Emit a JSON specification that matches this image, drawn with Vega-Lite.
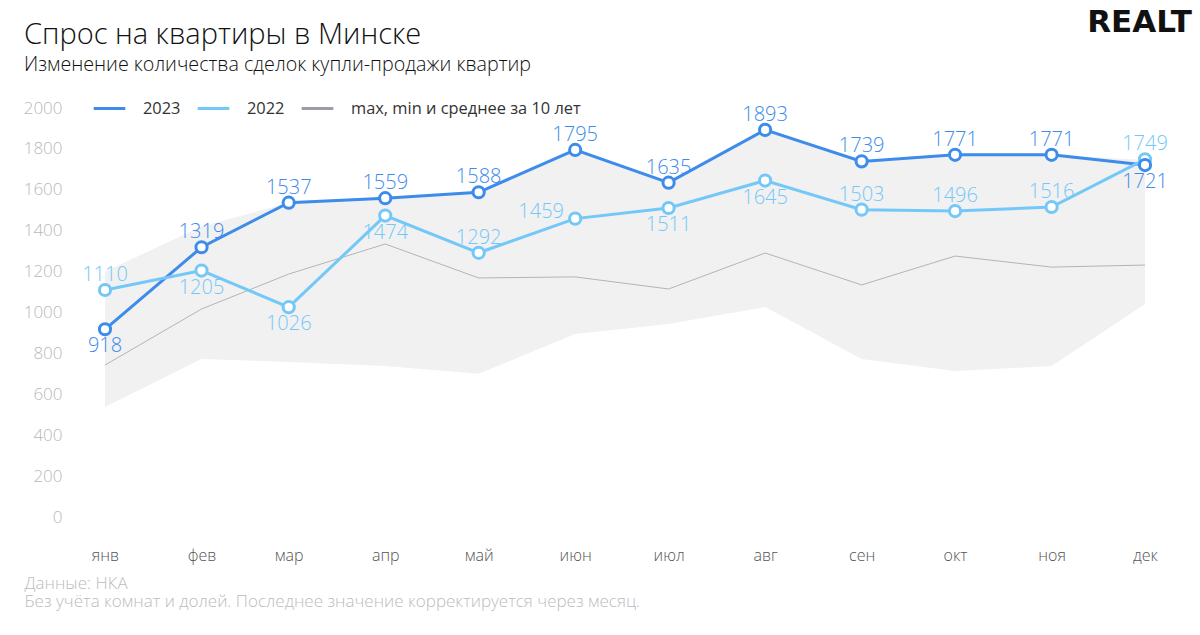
{
  "$schema": "https://vega.github.io/schema/vega-lite/v6.json",
  "width": 1040,
  "height": 409,
  "autosize": {"type": "none"},
  "padding": {"left": 105, "top": 108, "right": 55, "bottom": 118},
  "background": "#ffffff",
  "title": {
    "text": "Спрос на квартиры в Минске",
    "subtitle": "Изменение количества сделок купли-продажи квартир",
    "anchor": "start",
    "frame": "group",
    "dx": -81,
    "offset": -68,
    "font": "Open Sans",
    "fontSize": 29,
    "fontWeight": 300,
    "color": "#111111",
    "subtitleFont": "Open Sans",
    "subtitleFontSize": 19.7,
    "subtitleFontWeight": 300,
    "subtitleColor": "#111111",
    "subtitlePadding": 5
  },
  "datasets": {
    "months": [
      {"month": "2023-01-01T00:00:00", "y2023": 918, "y2022": 1110, "low": 538, "high": 1200, "avg": 743},
      {"month": "2023-02-01T00:00:00", "y2023": 1319, "y2022": 1205, "low": 773, "high": 1420, "avg": 1017},
      {"month": "2023-03-01T00:00:00", "y2023": 1537, "y2022": 1026, "low": 758, "high": 1537, "avg": 1188},
      {"month": "2023-04-01T00:00:00", "y2023": 1559, "y2022": 1474, "low": 738, "high": 1559, "avg": 1335},
      {"month": "2023-05-01T00:00:00", "y2023": 1588, "y2022": 1292, "low": 700, "high": 1588, "avg": 1169},
      {"month": "2023-06-01T00:00:00", "y2023": 1795, "y2022": 1459, "low": 895, "high": 1795, "avg": 1174},
      {"month": "2023-07-01T00:00:00", "y2023": 1635, "y2022": 1511, "low": 944, "high": 1635, "avg": 1115},
      {"month": "2023-08-01T00:00:00", "y2023": 1893, "y2022": 1645, "low": 1027, "high": 1893, "avg": 1291},
      {"month": "2023-09-01T00:00:00", "y2023": 1739, "y2022": 1503, "low": 773, "high": 1739, "avg": 1135},
      {"month": "2023-10-01T00:00:00", "y2023": 1771, "y2022": 1496, "low": 714, "high": 1771, "avg": 1276},
      {"month": "2023-11-01T00:00:00", "y2023": 1771, "y2022": 1516, "low": 738, "high": 1771, "avg": 1222},
      {"month": "2023-12-01T00:00:00", "y2023": 1721, "y2022": 1749, "low": 1042, "high": 1746, "avg": 1232}
    ],
    "logo": [{"month": "2023-12-01T00:00:00", "value": 2415, "name": "REALT"}]
  },
  "data": {"name": "months"},
  "config": {
    "view": {"stroke": null},
    "locale": {
      "time": {
        "dateTime": "%A, %e %B %Y г. %X",
        "date": "%d.%m.%Y",
        "time": "%H:%M:%S",
        "periods": ["AM", "PM"],
        "days": ["воскресенье", "понедельник", "вторник", "среда", "четверг", "пятница", "суббота"],
        "shortDays": ["вс", "пн", "вт", "ср", "чт", "пт", "сб"],
        "months": ["январь", "февраль", "март", "апрель", "май", "июнь", "июль", "август", "сентябрь", "октябрь", "ноябрь", "декабрь"],
        "shortMonths": ["янв", "фев", "мар", "апр", "май", "июн", "июл", "авг", "сен", "окт", "ноя", "дек"]
      }
    }
  },
  "encoding": {
    "x": {
      "field": "month",
      "type": "temporal",
      "scale": {"domain": ["2023-01-01T00:00:00", "2023-12-01T00:00:00"], "nice": false},
      "axis": {
        "domain": false,
        "ticks": false,
        "grid": false,
        "format": "%b",
        "tickCount": {"interval": "month", "step": 1},
        "labelOverlap": false,
        "labelFlush": false,
        "labelAngle": 0,
        "labelFont": "Open Sans",
        "labelFontSize": 16,
        "labelFontWeight": 300,
        "labelColor": "#555555",
        "labelPadding": 30,
        "title": ["Данные: НКА", "Без учёта комнат и долей. Последнее значение корректируется через месяц."],
        "titleFont": "Open Sans",
        "titleFontSize": 17,
        "titleFontWeight": 300,
        "titleColor": "#bcbcbc",
        "titleAlign": "left",
        "titleAnchor": "start",
        "titleLineHeight": 18,
        "titleX": -81,
        "titleY": 58
      }
    },
    "y": {
      "type": "quantitative",
      "scale": {"domain": [0, 2000], "nice": false},
      "axis": {
        "values": [0, 200, 400, 600, 800, 1000, 1200, 1400, 1600, 1800, 2000],
        "format": "d",
        "domain": false,
        "ticks": false,
        "grid": false,
        "labelFont": "Open Sans",
        "labelFontSize": 17,
        "labelFontWeight": 300,
        "labelColor": "#b8b8b8",
        "labelPadding": 43,
        "title": null
      }
    }
  },
  "layer": [
    {
      "mark": {"type": "area", "color": "#f1f1f1"},
      "encoding": {"y": {"field": "low"}, "y2": {"field": "high"}}
    },
    {
      "mark": {"type": "line", "color": "#b5b3b8", "strokeWidth": 1},
      "encoding": {"y": {"field": "avg"}}
    },
    {
      "transform": [
        {"fold": ["y2023", "y2022"], "as": ["series", "amount"]},
        {"calculate": "datum.series == 'y2023' ? '2023' : '2022'", "as": "name"}
      ],
      "mark": {"type": "line", "strokeWidth": 3},
      "encoding": {
        "y": {"field": "amount"},
        "color": {
          "field": "name",
          "type": "nominal",
          "scale": {
            "domain": ["2023", "2022", "max, min и среднее за 10 лет"],
            "range": ["#3d8bea", "#74c8f8", "#9d9ba6"]
          },
          "legend": {
            "title": null,
            "orient": "none",
            "legendX": -13,
            "legendY": -17,
            "direction": "horizontal",
            "columns": 3,
            "symbolType": "stroke",
            "symbolSize": 1000,
            "symbolStrokeWidth": 3,
            "labelFont": "Open Sans",
            "labelFontSize": 16.4,
            "labelColor": "#333333",
            "labelOffset": 16,
            "columnPadding": 10,
            "labelLimit": 300
          }
        }
      }
    },
    {
      "mark": {"type": "point", "filled": true, "fill": "#ffffff", "stroke": "#74c8f8", "strokeWidth": 3, "size": 125, "opacity": 1},
      "encoding": {"y": {"field": "y2022"}}
    },
    {
      "mark": {"type": "point", "filled": true, "fill": "#ffffff", "stroke": "#3d8bea", "strokeWidth": 3, "size": 125, "opacity": 1},
      "encoding": {"y": {"field": "y2023"}}
    },
    {
      "transform": [{"filter": "indexof([0, 4, 8, 9, 10, 11], month(datum.month)) >= 0"}],
      "mark": {"type": "text", "font": "Open Sans", "fontSize": 20, "fontWeight": 300, "color": "#74c8f8", "baseline": "bottom", "dy": -5},
      "encoding": {"y": {"field": "y2022"}, "text": {"field": "y2022"}}
    },
    {
      "transform": [{"filter": "indexof([1, 2, 3, 6, 7], month(datum.month)) >= 0"}],
      "mark": {"type": "text", "font": "Open Sans", "fontSize": 20, "fontWeight": 300, "color": "#74c8f8", "baseline": "top", "dy": 7},
      "encoding": {"y": {"field": "y2022"}, "text": {"field": "y2022"}}
    },
    {
      "transform": [{"filter": "month(datum.month) == 5"}],
      "mark": {"type": "text", "font": "Open Sans", "fontSize": 20, "fontWeight": 300, "color": "#74c8f8", "baseline": "middle", "dx": -34, "dy": -7},
      "encoding": {"y": {"field": "y2022"}, "text": {"field": "y2022"}}
    },
    {
      "transform": [{"filter": "month(datum.month) > 0 && month(datum.month) < 11"}],
      "mark": {"type": "text", "font": "Open Sans", "fontSize": 20, "fontWeight": 300, "color": "#3d8bea", "baseline": "bottom", "dy": -5},
      "encoding": {"y": {"field": "y2023"}, "text": {"field": "y2023"}}
    },
    {
      "transform": [{"filter": "month(datum.month) == 0 || month(datum.month) == 11"}],
      "mark": {"type": "text", "font": "Open Sans", "fontSize": 20, "fontWeight": 300, "color": "#3d8bea", "baseline": "top", "dy": 7},
      "encoding": {"y": {"field": "y2023"}, "text": {"field": "y2023"}}
    },
    {
      "data": {"name": "logo"},
      "mark": {"type": "text", "font": "DejaVu Sans", "fontSize": 31, "fontWeight": "bold", "color": "#111111", "align": "right", "dx": 47, "baseline": "middle"},
      "encoding": {"y": {"field": "value"}, "text": {"field": "name"}}
    }
  ]
}
